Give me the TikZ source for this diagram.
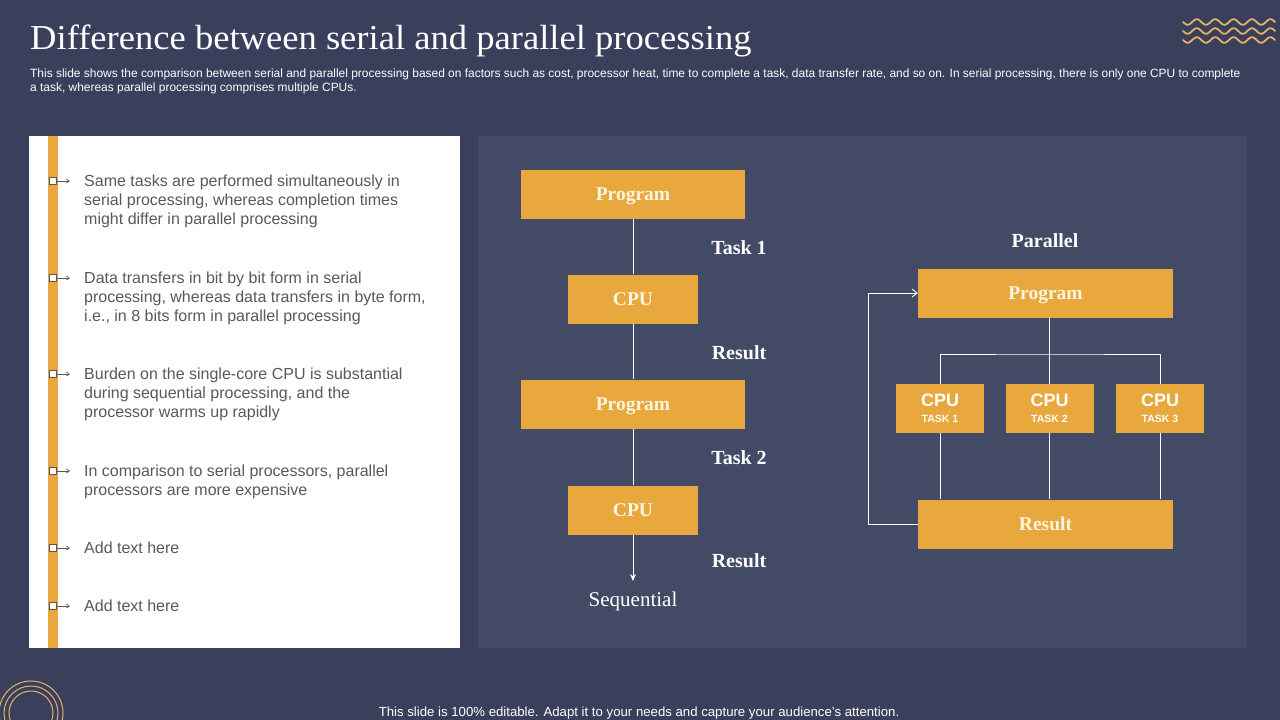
\documentclass[tikz,border=0pt]{standalone}
\usepackage{fontspec}
\setmainfont{Liberation Serif}
\setsansfont{Liberation Sans}
\usetikzlibrary{arrows.meta}
\definecolor{bgc}{HTML}{3A3F5C}
\definecolor{panelc}{HTML}{434A66}
\definecolor{orangec}{HTML}{E9A83E}
\definecolor{creamc}{HTML}{FFF6E0}
\definecolor{grayt}{HTML}{595959}
\definecolor{decoc}{HTML}{E2B46A}
\tikzset{
  obox/.style={fill=orangec, draw=none, inner sep=0pt, text=creamc, text height=12.5pt, text depth=0pt, font=\rmfamily\bfseries\fontsize{19.5}{21}\selectfont},
  conn/.style={draw=white, line width=0.9pt},
  lbl/.style={text=white, font=\rmfamily\bfseries\fontsize{20}{22}\selectfont},
  btxt/.style={anchor=north west, align=left, inner sep=0pt, text=grayt, font=\sffamily\fontsize{16}{19}\selectfont},
  bmark/.style={draw=grayt, fill=white, line width=0.6pt, minimum size=7pt, inner sep=0pt},
  barrow/.style={draw=grayt, line width=0.7pt, -{Straight Barb[length=3pt,width=4pt]}},
}
\begin{document}
\begin{tikzpicture}[x=1pt,y=-1pt]
\fill[bgc] (0,0) rectangle (1280,720);
\useasboundingbox (0,0) rectangle (1280,720);
% title
\node[anchor=base west, inner sep=0pt, text=white, font=\rmfamily\fontsize{35}{38}\selectfont] (title) at (30,49) {\scalebox{1.045}[1]{Difference between serial and parallel processing}};
\node[anchor=base west, inner sep=0pt, text=white, font=\sffamily\fontsize{12}{14}\selectfont] (sub1) at (30,77) {\scalebox{0.995}[1]{This slide shows the comparison between serial and parallel processing based on factors such as cost, processor heat, time to complete a task, data transfer rate, and so on. In serial processing, there is only one CPU to complete}};
\node[anchor=base west, inner sep=0pt, text=white, font=\sffamily\fontsize{12}{14}\selectfont] (sub2) at (30,91) {\scalebox{0.995}[1]{a task, whereas parallel processing comprises multiple CPUs.}};
% waves
\foreach \yy in {22,31,40}{
  \draw[decoc, line width=1.8pt, line cap=round] plot[domain=0:92, samples=80] ({1183+\x}, {\yy+2.8*sin(\x*19.565)});
}
% circles
\foreach \r in {32,27,22}{
  \draw[decoc, line width=1pt] (31,713) circle (\r);
}
% left panel
\fill[white] (29,136) rectangle (460,648);
\fill[orangec] (48,136) rectangle (58,648);
% bullets
\foreach \yy/\txt [count=\i] in {
 181/{Same tasks are performed simultaneously  in\\serial processing, whereas completion times\\might differ in parallel processing},
 278/{Data transfers  in bit by bit form in serial\\processing, whereas data transfers  in byte form,\\i.e., in 8 bits form in parallel processing},
 374/{Burden on the single-core CPU is substantial\\during sequential processing, and the\\processor warms up rapidly},
 471/{In  comparison to serial processors, parallel\\processors are more expensive},
 548/{Add text here},
 606/{Add text here}}{
  \node[bmark] (m\i) at (53,\yy) {};
  \coordinate (a\i) at (70,\yy);
  \draw[barrow] (m\i.east) -- (a\i);
  \node[btxt] (t\i) at (84,\yy-6) {\txt};
}
% right panel
\fill[panelc] (478,136) rectangle (1247,648);
% serial
\node[obox, minimum width=224pt, minimum height=49pt] (p1) at (633,194) {Program};
\node[obox, minimum width=130pt, minimum height=49pt] (c1) at (633,299) {CPU};
\node[obox, minimum width=224pt, minimum height=49pt] (p2) at (633,404) {Program};
\node[obox, minimum width=130pt, minimum height=49pt] (c2) at (633,510) {CPU};
\coordinate (send) at (633,581);
\draw[conn] (p1) -- (c1);
\draw[conn] (c1) -- (p2);
\draw[conn] (p2) -- (c2);
\draw[conn, -{Stealth[length=7pt,width=6pt]}] (c2) -- (send);
\node[text=white, font=\rmfamily\fontsize{21}{23}\selectfont] (seq) at (633,601) {Sequential};
\node[lbl] (l1) at (739,248) {Task 1};
\node[lbl] (l2) at (739,353) {Result};
\node[lbl] (l3) at (739,458) {Task 2};
\node[lbl] (l4) at (739,561) {Result};
% parallel
\node[lbl] (par) at (1045,241) {Parallel};
\node[obox, minimum width=255pt, minimum height=49pt] (pp) at (1045.5,293) {Program};
\node[obox, minimum width=255pt, minimum height=49pt] (pr) at (1045.5,524) {Result};
\foreach \i/\xx in {1/940,2/1049.5,3/1160}{
  \node[obox, minimum width=88pt, minimum height=49pt, align=center, text=white, text height=, text depth=, font=\sffamily\bfseries] (cpu\i) at (\xx,408.5) {{\fontsize{18}{18}\selectfont CPU}\\[4pt]{\fontsize{10.5}{11}\selectfont TASK \i}};
}
\coordinate (bus) at (1049.5,354);
\draw[conn] (pp.south -| bus) -- (cpu2.north);
\draw[conn] (cpu1.north) |- (bus) -| (cpu3.north);
\foreach \i in {1,2,3}{
  \draw[conn] (cpu\i.south) -- (cpu\i.south |- pr.north);
}
\draw[conn, -{Straight Barb[length=5pt,width=8pt]}] (pr.west) -- ++(-49,0) |- (pp.west);
% footer
\node[anchor=base, inner sep=0pt, text=white, font=\sffamily\fontsize{13.2}{15}\selectfont] (foot) at (639,716) {This slide is 100\% editable. Adapt it to your needs and capture your audience's attention.};
\end{tikzpicture}
\end{document}
